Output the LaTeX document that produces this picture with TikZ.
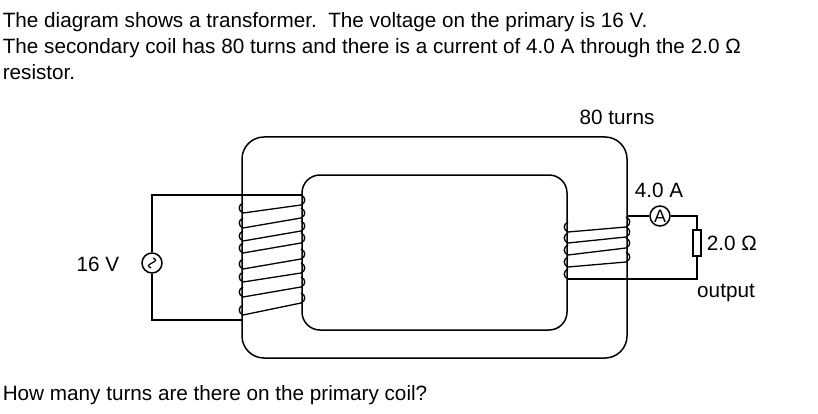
\documentclass[tikz,border=0pt]{standalone}
\usepackage{fontspec}
\setmainfont{Liberation Sans}
\begin{document}
\begin{tikzpicture}[x=1pt,y=-1pt,line width=1.5pt,
  txt/.style={inner sep=0pt,anchor=base west,font=\fontsize{20.7}{24}\selectfont},
  lbl/.style={inner sep=0pt,font=\fontsize{20.7}{24}\selectfont},
  coil/.style={line width=1.3pt}]
\useasboundingbox (0,0) rectangle (818,414);
\node[txt] (t1) at (2,28) {The diagram shows a transformer.\ \ The voltage on the primary is 16 V.};
\node[txt] (t2) at (2,54) {The secondary coil has 80 turns and there is a current of 4.0 A through the 2.0 \symbol{"03A9}};
\node[txt] (t3) at (2,80) {resistor.};
\node[txt] (q) at (2,400) {How many turns are there on the primary coil?};
% core
\draw[rounded corners=22pt] (242,137) rectangle (627,358);
\draw[rounded corners=18pt] (302,175) rectangle (567,330);
% primary circuit
\node[circle,draw,minimum size=20pt,inner sep=0pt] (src) at (152,263) {};
\draw[line width=1.2pt] ([shift={(-1,5)}]src.center) .. controls +(-4,-2) and +(-4,2) .. ([shift={(0,0)}]src.center) .. controls +(4,-2) and +(4,2) .. ([shift={(1,-5)}]src.center);
\node[lbl] (v) at (98,264) {16 V};
\coordinate (pa) at (302,195);
\coordinate (pb) at (242,320);
\draw (src.north) |- (pa);
\draw (src.south) |- (pb);
\foreach \l/\r in {213/205,228/218,241/231,253/243,269/259,282/273,297/287,315/303}{
  \draw[coil] (243,\l) -- (301,\r);
  \draw[coil] (301,\r-10) .. controls (306,\r-8) and (306,\r-2) .. (301,\r);
  \draw[coil] (243,\l) .. controls (238,\l-2) and (238,\l-8) .. (243,\l-10);
}
% secondary
\foreach \l/\r in {232/227,243/237,255/248,267/262}{
  \draw[coil] (568,\l) -- (626,\r);
  \draw[coil] (626,\r-10) .. controls (631,\r-8) and (631,\r-2) .. (626,\r);
  \draw[coil] (568,\l) .. controls (563,\l-2) and (563,\l-8) .. (568,\l-10);
}
\draw[coil] (568,279) .. controls (563,277) and (563,271) .. (568,269);
\node[circle,draw,minimum size=20pt,inner sep=0pt,font=\fontsize{18}{18}\selectfont] (amm) at (660,216) {A};
\node[draw,minimum width=8pt,minimum height=26pt,inner sep=0pt] (res) at (697,243) {};
\coordinate (st) at (627,216);
\coordinate (sb) at (568,279);
\draw (st) -- (amm.west);
\draw (amm.east) -| (res.north);
\draw (res.south) |- (sb);
\node[lbl] (ia) at (659,190) {4.0 A};
\node[lbl,anchor=west] (ro) at (706,243) {2.0 \symbol{"03A9}};
\node[lbl] (out) at (726,293) {output};
\node[lbl] (tn) at (617,117) {80 turns};
\end{tikzpicture}
\end{document}
